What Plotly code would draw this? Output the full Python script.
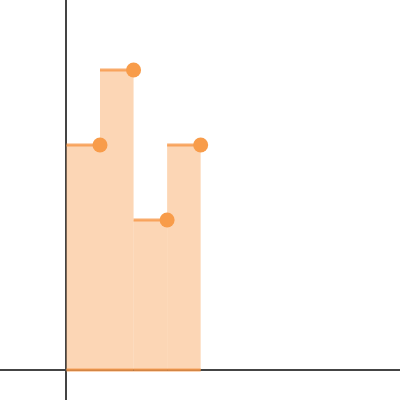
import plotly.graph_objects as go

x_start = [0, 1, 2, 3]
x_end = [1, 2, 3, 4]
values = [3, 4, 2, 3]

LINE = "rgba(246,150,70,0.8)"
FILL = "rgba(250,180,120,0.55)"
MARK = "#f89c4a"

fig = go.Figure()
for xs, xe, v in zip(x_start, x_end, values):
    fig.add_trace(go.Scatter(x=[xs, xe], y=[v, v], mode="lines", fill="tozeroy",
                             fillcolor=FILL, line=dict(color=LINE, width=3),
                             hoverinfo="skip", showlegend=False))
for xs, xe, v in zip(x_start, x_end, values):
    fig.add_trace(go.Scatter(x=[xs, xe], y=[0, 0], mode="lines",
                             line=dict(color=LINE, width=3),
                             hoverinfo="skip", showlegend=False))
fig.add_trace(go.Scatter(x=x_end, y=values, mode="markers",
                         marker=dict(color=MARK, size=15, line=dict(width=0)),
                         showlegend=False))

fig.update_layout(
    width=400, height=400, margin=dict(l=0, r=0, t=0, b=0),
    plot_bgcolor="white", paper_bgcolor="white",
    xaxis=dict(range=[-1.98, 9.94], showgrid=False, zeroline=True, zerolinecolor="#444",
               zerolinewidth=2, showticklabels=False, ticks=""),
    yaxis=dict(range=[-0.4, 4.933], showgrid=False, zeroline=True, zerolinecolor="#444",
               zerolinewidth=2, showticklabels=False, ticks=""),
)
fig.write_html("out.html", config={"displayModeBar": False},
               post_script="document.body.style.margin='0';")
